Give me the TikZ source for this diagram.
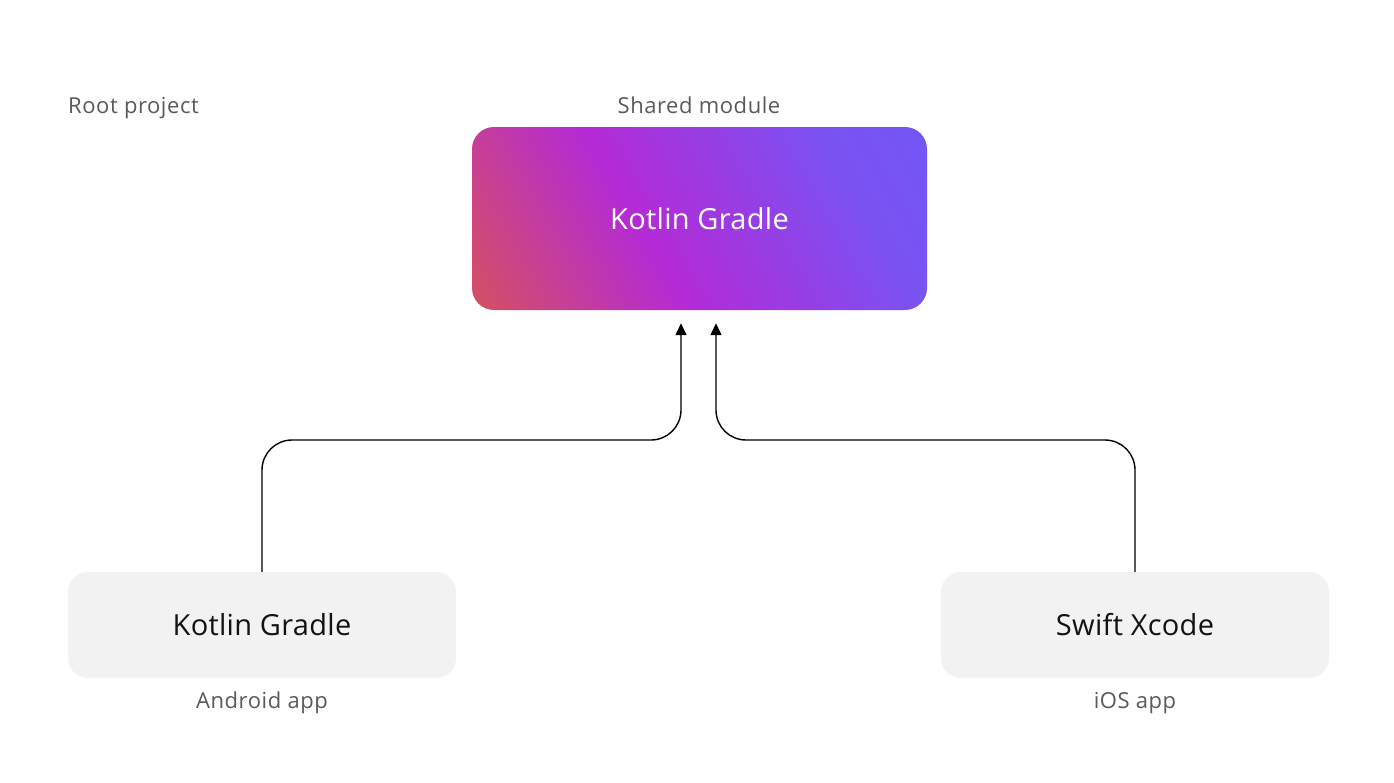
\documentclass[tikz,border=0pt]{standalone}
\usepackage{fontspec}
\setmainfont{Open Sans}
\usetikzlibrary{arrows.meta,calc}
\definecolor{boxgray}{HTML}{F2F2F2}
\definecolor{labelgray}{HTML}{5A5A5A}
\definecolor{kred}{HTML}{D6525C}
\definecolor{kmag}{HTML}{B42AD6}
\definecolor{kviol}{HTML}{7A52F2}
\definecolor{kblue}{HTML}{7356F6}
\pgfdeclarehorizontalshading{kgrad}{100bp}{color(0bp)=(kred); color(25bp)=(kred); color(44.5bp)=(kmag); color(65bp)=(kviol); color(75bp)=(kblue); color(100bp)=(kblue)}
\tikzset{
  topbox/.style={minimum width=455pt, minimum height=183pt, inner sep=0pt, text=white, font=\fontsize{29}{34}\selectfont\addfontfeatures{LetterSpace=1}},
  botbox/.style={fill=boxgray, rounded corners=20pt, minimum width=388pt, minimum height=106pt, inner sep=0pt, text=black!93, font=\fontsize{29}{34}\selectfont\addfontfeatures{LetterSpace=1}},
  lbl/.style={text=labelgray, inner sep=0pt, font=\fontsize{22}{26}\selectfont\addfontfeatures{LetterSpace=2.5}},
  conn/.style={draw=black, line width=1.4pt, rounded corners=30pt, -{Triangle[width=11pt,length=12pt]}}
}
\begin{document}
\begin{tikzpicture}[x=1pt,y=-1pt]
\useasboundingbox (0,0) rectangle (1394,782);
\fill[white] (0,0) rectangle (1394,782);
% gradient box
\begin{scope}
\clip[rounded corners=22pt] (472,127) rectangle (927,310);
\shade[shading=kgrad, transform canvas={rotate around={30:(699.5,218.5)}}] (449.5,-31.5) rectangle (949.5,468.5);
\end{scope}
\node[topbox] (shared) at (699.5,218.5) {Kotlin Gradle};
\node[botbox] (android) at (262,625) {Kotlin Gradle};
\node[botbox] (ios) at (1135,625) {Swift Xcode};
\node[lbl, anchor=base west] (root) at (68,113) {Root project};
\node[lbl, anchor=base] (sharedlbl) at (699,113) {Shared module};
\node[lbl, anchor=base] (androidlbl) at (262,708) {Android app};
\node[lbl, anchor=base] (ioslbl) at (1135,708) {iOS app};
\coordinate (mid) at (0,440);
\coordinate (inL) at ($(shared.south)+(-18.5,13)$);
\coordinate (inR) at ($(shared.south)+(16.5,13)$);
\draw[conn] (android.north) -- (android.north |- mid) -| (inL);
\draw[conn] (ios.north) -- (ios.north |- mid) -| (inR);
\end{tikzpicture}
\end{document}
